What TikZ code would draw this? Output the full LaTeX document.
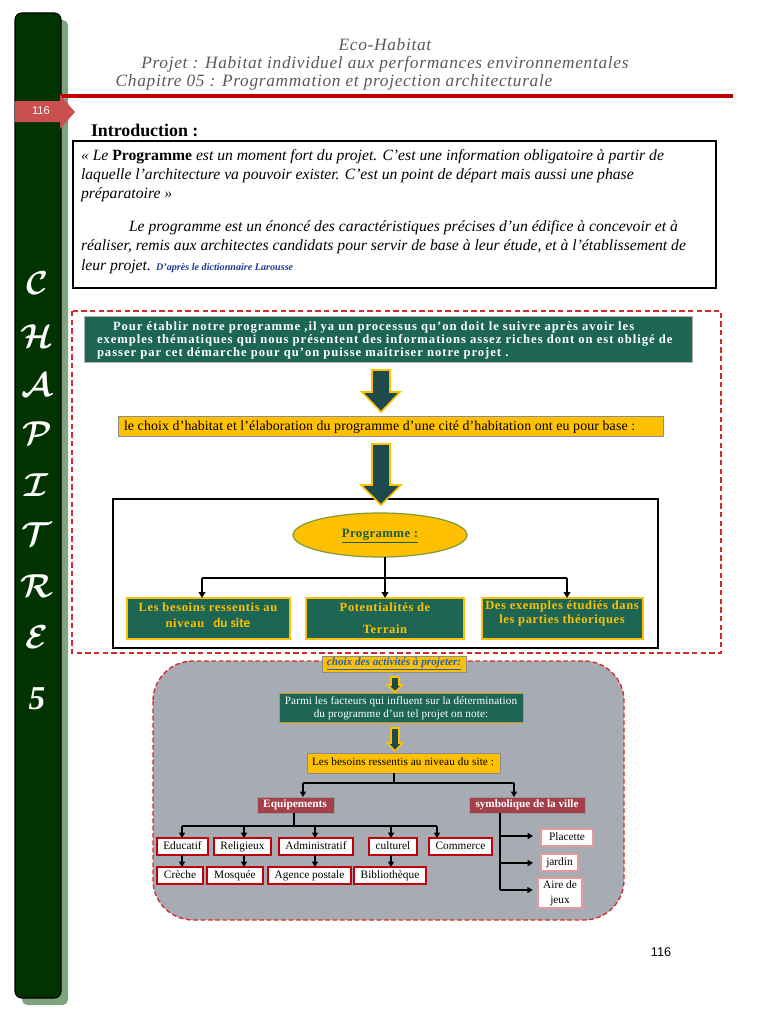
\documentclass[tikz,border=0pt]{standalone}
\usepackage{fontspec}
\usepackage{amsmath,bm}
\setmainfont{Liberation Serif}
\newfontfamily\sansf{Liberation Sans}
\newfontfamily\carl{Carlito}
\usetikzlibrary{shapes.geometric,arrows.meta,fit,calc}
\definecolor{sidegreen}{HTML}{013301}
\definecolor{shadowgreen}{HTML}{7FA27F}
\definecolor{headred}{HTML}{C00000}
\definecolor{tagred}{HTML}{C9504F}
\definecolor{tealc}{HTML}{1C6653}
\definecolor{arrteal}{HTML}{1F4A4C}
\definecolor{gold}{HTML}{FFC000}
\definecolor{panelgray}{HTML}{A7ACB4}
\definecolor{eqred}{HTML}{A3404A}
\definecolor{dashred}{HTML}{D42A2A}
\definecolor{darkblue}{HTML}{1F3A93}
\definecolor{linkblue}{HTML}{1F5FBF}
\definecolor{headgray}{HTML}{595959}
\definecolor{boxred}{HTML}{C0000A}
\definecolor{progtext}{HTML}{1E5C3A}
\definecolor{ellborder}{HTML}{7E9A3C}
\newcommand\fsz[2]{\fontsize{#1pt}{#2pt}\selectfont}
\newcommand\lsp[1]{\addfontfeature{LetterSpace=#1}}
\newcommand\blockarrow[6]{% cx, ytop, ybot, shaftw, headw, headlen
  \draw[blockarr] ({#1-#4/2},#2) -- ({#1+#4/2},#2) -- ({#1+#4/2},{#3-#6}) -- ({#1+#5/2},{#3-#6})
  -- (#1,#3) -- ({#1-#5/2},{#3-#6}) -- ({#1-#4/2},{#3-#6}) -- cycle;}
\begin{document}
\begin{tikzpicture}[x=0.75pt,y=-0.75pt,
  every node/.style={inner sep=0pt, outer sep=0pt},
  blockarr/.style={fill=arrteal, draw=gold, line width=1.2pt, line join=miter},
  tealbox/.style={fill=tealc, draw=gold, line width=1.5pt},
  goldbox/.style={fill=gold, draw=black!45, line width=0.6pt},
  eqbox/.style={fill=eqred, draw=black!40, line width=0.5pt},
  itembox/.style={fill=white, draw=boxred, line width=1.3pt},
  symbox/.style={fill=white, draw=boxred!40, line width=0.8pt},
  itemtxt/.style={font=\fsz{8.5}{10}, text height=6pt, text depth=1.6pt},
  conn/.style={line width=1.5pt, -{Triangle[length=4.5pt,width=5pt]}},
  connb/.style={line width=1.3pt, -{Triangle[length=4pt,width=4.5pt]}},
  plain/.style={line width=1.5pt},
  plainb/.style={line width=1.3pt},
  introtxt/.style={anchor=base west, font=\itshape\fsz{11.75}{13}},
  g1txt/.style={anchor=base west, text=white, font=\bfseries\fsz{9.5}{10}\lsp{7.5}},
  boxtxt/.style={text=gold, font=\bfseries\fsz{9.4}{10}\lsp{5}},
  hdr/.style={text=headgray, font=\itshape\fsz{13}{14}\lsp{4}, text height=9pt, text depth=2.5pt},
  side/.style={text=white}
]
\useasboundingbox (0,0) rectangle (768,1024);

% ---------- sidebar ----------
\fill[shadowgreen, rounded corners=4pt] (22,20) rectangle (68,1005);
\draw[fill=sidegreen, rounded corners=5pt, line width=0.8pt] (15,13) rectangle (61,998);

\node[side] (sC) at (37,283) {\fsz{23}{23}$\bm{\mathcal{C}}$};
\node[side] (sH) at (37,336) {\fsz{23}{23}$\bm{\mathcal{H}}$};
\node[side] (sA) at (37,385) {\fsz{23}{23}$\bm{\mathcal{A}}$};
\node[side] (sP) at (37,433) {\fsz{23}{23}$\bm{\mathcal{P}}$};
\node[side] (sI) at (37,485) {\fsz{23}{23}$\bm{\mathcal{I}}$};
\node[side] (sT) at (37,534) {\fsz{23}{23}$\bm{\mathcal{T}}$};
\node[side] (sR) at (37,586) {\fsz{23}{23}$\bm{\mathcal{R}}$};
\node[side] (sE) at (37,637) {\fsz{23}{23}$\bm{\mathcal{E}}$};
\node[side] (s5) at (37,699) {\bfseries\itshape\fsz{25}{25}5};

% ---------- header ----------
\draw[headred, line width=3pt] (60,96) -- (733,96);
\fill[tagred] (15,101) -- (60,101) -- (60,95) -- (75,112) -- (60,129) -- (60,122) -- (15,122) -- cycle;
\node[text=white, font=\sansf\fsz{8.4}{9}] (tag) at (41,111) {116};

\node[hdr, anchor=base] (h1) at (385,51) {Eco-Habitat};
\node[hdr, anchor=base] (h2) at (385,69) {Projet : Habitat individuel aux performances environnementales};
\node[hdr, anchor=base] (h3) at (334,87) {Chapitre 05 : Programmation et projection architecturale};

% ---------- introduction ----------
\node[anchor=base west, font=\bfseries\fsz{13.4}{13}] (intro) at (91,137) {Introduction :};
\draw[line width=1.6pt] (73,141) rectangle (716,288);
\node[introtxt] (i1) at (81,160) {« Le \textbf{\upshape Programme} est un moment fort du projet. C’est une information obligatoire à partir de};
\node[introtxt] (i2) at (81,179) {laquelle l’architecture va pouvoir exister. C’est un point de départ mais aussi une phase};
\node[introtxt] (i3) at (81,198) {préparatoire »};
\node[introtxt] (i4) at (129,231) {Le programme est un énoncé des caractéristiques précises d’un édifice à concevoir et à};
\node[introtxt] (i5) at (81,250) {réaliser, remis aux architectes candidats pour servir de base à leur étude, et à l’établissement de};
\node[introtxt] (i6) at (81,270) {leur projet. {\color{darkblue}\bfseries\fsz{7.6}{8}D’après le dictionnaire Larousse}};

% ---------- upper dashed frame ----------
\draw[dashred, line width=0.9pt, dash pattern=on 4pt off 2.5pt] (72,311) rectangle (721,653);

\node[fill=tealc, draw=black!30, line width=0.5pt, fit={(84,316)(692,362)}] (g1) {};
\node[g1txt] (g1a) at (113,330) {Pour établir notre programme ,il ya un processus qu’on doit le suivre après avoir les};
\node[g1txt] (g1b) at (97,343) {exemples thématiques qui nous présentent des informations assez riches dont on est obligé de};
\node[g1txt] (g1c) at (97,356) {passer par cet démarche pour qu’on puisse maitriser notre projet .};

\blockarrow{381}{370}{412}{18}{38}{20}

\node[goldbox, fit={(118,416)(663,436)}] (y1) {};
\node[anchor=base west, font=\fsz{10.4}{10}\lsp{1}] (y1t) at (124,430) {le choix d’habitat et l’élaboration du programme d’une cité d’habitation ont eu pour base :};

\draw[fill=white, line width=2pt] (113,499) rectangle (658,648);
\blockarrow{381}{444}{505}{18}{40}{20}

\node[ellipse, fill=gold, draw=ellborder, line width=0.9pt, minimum width=130.5pt, minimum height=33pt] (ell) at (380,535) {};
\node[text=progtext, font=\bfseries\fsz{9.6}{10}\lsp{3}] (ellt) at (380,536) {\underline{Programme :}};

\node[tealbox, fit={(127,598)(290,639)}] (bA) {};
\node[tealbox, fit={(306,598)(464,639)}] (bB) {};
\node[tealbox, fit={(482,598)(643,639)}] (bC) {};
\node[boxtxt] (bA1) at (208,607) {Les besoins ressentis au};
\node[boxtxt] (bA2) at (208,623) {niveau \hspace{4pt}{\carl\fsz{10}{10}\lsp{0}du site}};
\node[boxtxt] (bB1) at (385,607) {Potentialités de};
\node[boxtxt] (bB2) at (385,629) {Terrain};
\node[boxtxt] (bC1) at (562,606) {Des exemples étudiés dans};
\node[boxtxt] (bC2) at (562,620) {les parties théoriques};

\coordinate (tj) at (385,578);
\coordinate (tjA) at (202,578);
\coordinate (tjC) at (567,578);
\draw[plain] (ell.south -| tj) -- (tj);
\draw[plain] (tjA) -- (tjC);
\draw[conn] (tjA) -- (tjA |- bA.north);
\draw[conn] (tj) -- (tj |- bB.north);
\draw[conn] (tjC) -- (tjC |- bC.north);

% ---------- lower panel ----------
\draw[fill=panelgray, draw=dashred, line width=1pt, dash pattern=on 3.5pt off 2pt, rounded corners=30pt] (153,661) rectangle (624,920);

\node[goldbox, fit={(322,656)(466,672)}] (choix) {};
\node[text=linkblue, font=\bfseries\itshape\fsz{8.4}{9}] (choixt) at (394,664) {\underline{choix des activités à projeter:}};

\blockarrow{395}{677}{692}{8}{15}{7}

\node[fill=tealc, draw=gold!80!black, line width=0.6pt, fit={(279,693)(523,722)}] (g2) {};
\node[text=white, align=center, font=\fsz{8.4}{9.8}\lsp{1}] (g2t) at (401,708) {Parmi les facteurs qui influent sur la détermination\\du programme d'un tel projet on note:};

\blockarrow{395}{728}{751}{8}{15}{8}

\node[goldbox, fit={(307,753)(500,773)}] (y2) {};
\node[font=\fsz{8.4}{9}\lsp{1}, text height=6pt, text depth=1.6pt] (y2t) at (403,763) {Les besoins ressentis au niveau du site :};

\node[eqbox, fit={(257,797)(334,813)}] (eq) {};
\node[text=white, font=\bfseries\fsz{8.5}{9}, text height=6pt, text depth=1.6pt] (eqt) at (295,805) {Equipements};
\node[eqbox, fit={(469,797)(585,813)}] (sym) {};
\node[text=white, font=\bfseries\fsz{8.4}{9}, text height=6pt, text depth=1.6pt] (symt) at (527,805) {symbolique de la ville};

\coordinate (bj) at (394,783);
\coordinate (bjL) at (303,783);
\coordinate (bjR) at (514,783);
\draw[plainb] (y2.south -| bj) -- (bj);
\draw[plainb] (bjL) -- (bjR);
\draw[connb] (bjL) -- (bjL |- eq.north);
\draw[connb] (bjR) -- (bjR |- sym.north);

% row 1
\node[itembox, fit={(157,838)(208,855)}] (educ) {};
\node[itemtxt] at (educ.center) (educt) {Educatif};
\node[itembox, fit={(214,838)(271,855)}] (relig) {};
\node[itemtxt] at (relig.center) (religt) {Religieux};
\node[itembox, fit={(279,838)(353,855)}] (admin) {};
\node[itemtxt] at (admin.center) (admint) {Administratif};
\node[itembox, fit={(369,838)(417,855)}] (cult) {};
\node[itemtxt] at (cult.center) (cultt) {culturel};
\node[itembox, fit={(429,838)(492,855)}] (comm) {};
\node[itemtxt] at (comm.center) (commt) {Commerce};
% row 2
\node[itembox, fit={(157,867)(203,884)}] (crec) {};
\node[itemtxt] at (crec.center) (crect) {Crèche};
\node[itembox, fit={(207,867)(263,884)}] (mosq) {};
\node[itemtxt] at (mosq.center) (mosqt) {Mosquée};
\node[itembox, fit={(268,867)(351,884)}] (agen) {};
\node[itemtxt] at (agen.center) (agent) {Agence postale};
\node[itembox, fit={(354,867)(426,884)}] (bibl) {};
\node[itemtxt] at (bibl.center) (biblt) {Bibliothèque};

\coordinate (ej) at (294,826);
\coordinate (ejL) at (182,826);
\coordinate (ejR) at (437,826);
\coordinate (ejB) at (244,826);
\coordinate (ejC) at (315,826);
\coordinate (ejD) at (391,826);
\draw[plainb] (eq.south -| ej) -- (ej);
\draw[plainb] (ejL) -- (ejR);
\draw[connb] (ejL) -- (ejL |- educ.north);
\draw[connb] (ejB) -- (ejB |- relig.north);
\draw[connb] (ejC) -- (ejC |- admin.north);
\draw[connb] (ejD) -- (ejD |- cult.north);
\draw[connb] (ejR) -- (ejR |- comm.north);

\draw[connb] (educ.south -| ejL) -- (ejL |- crec.north);
\draw[connb] (relig.south -| ejB) -- (ejB |- mosq.north);
\draw[connb] (admin.south -| ejC) -- (ejC |- agen.north);
\draw[connb] (cult.south -| ejD) -- (ejD |- bibl.north);

% symbolique branch
\node[symbox, fit={(541,829)(593,846)}] (plac) {};
\node[itemtxt] at (plac.center) (plact) {Placette};
\node[symbox, fit={(541,854)(578,871)}] (jard) {};
\node[itemtxt] at (jard.center) (jardt) {jardin};
\node[symbox, fit={(538,878)(582,908)}] (aire) {};
\node[font=\fsz{8.5}{11}, align=center] at (aire.center) (airet) {Aire de\\jeux};

\coordinate (sv) at (500,813);
\coordinate (sv1) at (500,836);
\coordinate (sv2) at (500,863);
\coordinate (sv3) at (500,890);
\draw[plainb] (sv) -- (sv3);
\draw[connb, shorten >=6pt] (sv1) -- (plac.west |- sv1);
\draw[connb, shorten >=6pt] (sv2) -- (jard.west |- sv2);
\draw[connb, shorten >=4pt] (sv3) -- (aire.west |- sv3);

% page number
\node[font=\sansf\fsz{9.5}{10}] (pnum) at (661,952) {116};
\end{tikzpicture}
\end{document}
